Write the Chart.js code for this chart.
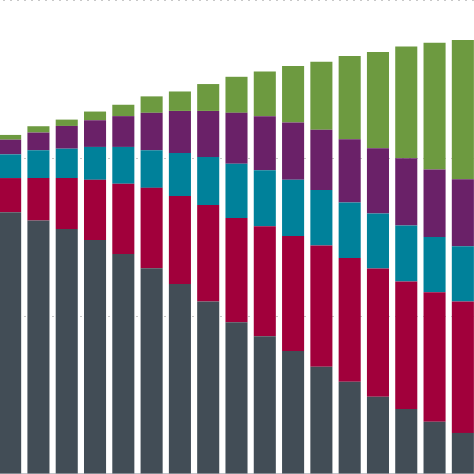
<!DOCTYPE html>
<html>
<head>
<meta charset="utf-8">
<script src="https://cdn.jsdelivr.net/npm/chart.js@4"></script>
<style>
  html, body { margin: 0; padding: 0; background: #fff; overflow: hidden; }
  body { width: 474px; height: 474px; position: relative; }
  #wrap { position: absolute; left: -4.4px; top: -0.5px; width: 481px; height: 474px; }
</style>
</head>
<body>
<div id="wrap"><canvas id="stackChart"></canvas></div>
<script>
// categories (labels are cropped out of the picture)
const categories = ["1", "2", "3", "4", "5", "6", "7", "8", "9", "10", "11", "12", "13", "14", "15", "16", "17"];

// stacked series, bottom to top
const greySeries   = [165.7, 160.4, 155.1, 148.1, 139.2, 130.3, 120.2, 109.2, 96.1, 87.2, 77.9, 67.9, 58.4, 48.9, 41.1, 33.0, 26.0];
const redSeries    = [21.6, 26.9, 32.2, 38.1, 44.5, 50.8, 55.7, 61.0, 66.0, 69.6, 72.8, 76.7, 78.3, 81.1, 80.8, 82.1, 83.2];
const tealSeries   = [15.0, 17.6, 18.6, 20.8, 23.3, 23.8, 27.3, 30.4, 34.3, 35.4, 35.5, 35.1, 35.2, 34.9, 35.4, 34.9, 34.9];
const purpleSeries = [9.3, 11.2, 14.4, 16.9, 19.5, 23.7, 26.6, 29.2, 32.2, 34.3, 36.2, 38.2, 40.0, 41.3, 42.5, 42.8, 42.4];
const greenSeries  = [3.0, 4.0, 4.0, 5.5, 7.2, 10.4, 12.3, 17.0, 22.8, 28.3, 35.8, 43.0, 52.7, 60.9, 70.7, 80.2, 88.2];

// y gridlines
const yTicks = [0, 100, 200, 300];

const ctx = document.getElementById("stackChart").getContext("2d");

new Chart(ctx, {
  type: "bar",
  data: {
    labels: categories,
    datasets: [
      { label: "Series 1", data: greySeries, backgroundColor: "#424d56" },
      { label: "Series 2", data: redSeries, backgroundColor: "#a1003b" },
      { label: "Series 3", data: tealSeries, backgroundColor: "#00819a" },
      { label: "Series 4", data: purpleSeries, backgroundColor: "#6a2168" },
      { label: "Series 5", data: greenSeries, backgroundColor: "#6d9a40" },
    ],
  },
  options: {
    responsive: true,
    maintainAspectRatio: false,
    animation: false,
    layout: { padding: 0 },
    datasets: {
      bar: {
        categoryPercentage: 1,
        barPercentage: 0.78,
        borderWidth: 0,
      },
    },
    plugins: {
      legend: { display: false },
      tooltip: { enabled: false },
    },
    scales: {
      x: {
        stacked: true,
        grid: { display: false, drawTicks: false },
        ticks: { display: false },
        border: { display: true, color: "#c4c8cc", width: 2 },
      },
      y: {
        stacked: true,
        min: 0,
        max: 300,
        afterBuildTicks: (scale) => {
          scale.ticks = yTicks.map((v) => ({ value: v }));
        },
        grid: { color: "#c8c8c8", lineWidth: 1, drawTicks: false },
        border: { display: false, dash: [2, 5] },
        ticks: { display: false },
      },
    },
  },
});
</script>
</body>
</html>
